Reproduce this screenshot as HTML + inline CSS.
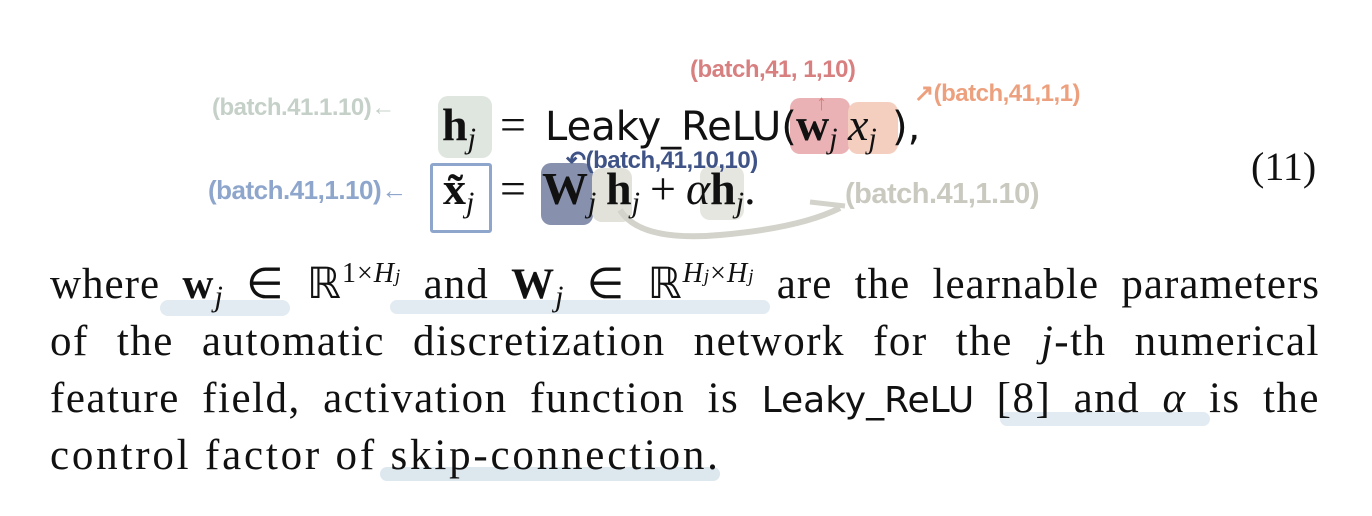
<!DOCTYPE html>
<html><head><meta charset="utf-8"><style>
body{margin:0;width:1372px;height:516px;background:#fff;overflow:hidden;position:relative;font-family:"Liberation Serif",serif;color:#111}
.a{position:absolute;white-space:nowrap}
.hand{font-family:"Liberation Sans",sans-serif;font-weight:bold;font-size:24px;letter-spacing:-0.5px}
.blob{position:absolute;border-radius:10px}
.p{position:absolute;left:50px;width:1270px;font-size:43px;letter-spacing:1.5px;text-align:justify;text-align-last:justify;line-height:57px;height:57px}
.sf{font-family:"DejaVu Sans",sans-serif}
.e{position:absolute;white-space:nowrap;font-size:46px;line-height:46px}
.s{font-size:30px;font-style:italic;position:relative;top:8px}
.sup{font-size:28px;position:relative;top:-16px}
</style></head><body>
<div class="blob" style="left:438px;top:96px;width:54px;height:62px;background:#dfe5df"></div>
<div class="blob" style="left:790px;top:98px;width:60px;height:56px;background:#eab2b4"></div>
<div class="blob" style="left:848px;top:102px;width:50px;height:52px;background:#f4cfc0"></div>
<div class="blob" style="left:541px;top:163px;width:52px;height:62px;background:#8791ad"></div>
<div class="blob" style="left:592px;top:168px;width:40px;height:54px;background:#e2e2da"></div>
<div class="blob" style="left:700px;top:166px;width:44px;height:54px;background:#e6e6e0"></div>
<div class="a" style="left:430px;top:163px;width:56px;height:64px;border:3px solid #8ea6cc;border-radius:3px"></div>
<div class="blob" style="left:160px;top:300px;width:130px;height:16px;background:#dbe6ee;opacity:.8"></div>
<div class="blob" style="left:390px;top:300px;width:380px;height:14px;background:#dbe6ee;opacity:.8"></div>
<div class="blob" style="left:1000px;top:412px;width:210px;height:14px;background:#dbe6ee;opacity:.8"></div>
<div class="blob" style="left:380px;top:467px;width:340px;height:14px;background:#d9e4ec;opacity:.9"></div>
<div class="a hand" style="left:212px;top:94px;color:#c5d0c8">(batch.41.1.10)←</div>
<div class="a hand" style="left:690px;top:56px;color:#d87f80">(batch,41, 1,10)</div>
<div class="a" style="left:816px;top:90px;color:#d87f80;font-size:22px">↑</div>
<div class="a hand" style="left:914px;top:79px;color:#eda07e">↗(batch,41,1,1)</div>
<div class="a hand" style="left:566px;top:146px;color:#3f5386">↶(batch,41,10,10)</div>
<div class="a hand" style="left:208px;top:175px;color:#8ea6cc;font-size:26px">(batch.41,1.10)←</div>
<div class="a hand" style="left:845px;top:178px;color:#c9c9c0;font-size:29px">(batch.41,1.10)</div>
<svg class="a" style="left:600px;top:190px" width="260" height="60"><path d="M20 20 Q40 52 120 45 Q200 38 240 18" stroke="#d3d3cb" stroke-width="6" fill="none"/><path d="M210 12 L245 16" stroke="#d3d3cb" stroke-width="5"/></svg>
<div class="e" style="left:442px;top:102px"><b>h</b><span class="s">j</span></div>
<div class="e" style="left:500px;top:102px">=</div>
<div class="e sf" style="left:545px;top:104px;font-size:40px">Leaky_ReLU(</div>
<div class="e" style="left:796px;top:102px"><b>w</b><span class="s">j</span></div>
<div class="e" style="left:848px;top:102px"><i>x</i><span class="s">j</span></div>
<div class="e sf" style="left:892px;top:104px;font-size:40px">),</div>
<div class="e" style="left:443px;top:166px"><b>x̃</b><span class="s">j</span></div>
<div class="e" style="left:500px;top:166px">=</div>
<div class="e" style="left:542px;top:166px"><b>W</b><span class="s">j</span></div>
<div class="e" style="left:606px;top:166px"><b>h</b><span class="s">j</span></div>
<div class="e" style="left:650px;top:166px">+</div>
<div class="e" style="left:686px;top:166px"><i>α</i><b>h</b><span class="s">j</span>.</div>
<div class="a" style="left:1251px;top:143px;font-size:40px">(11)</div>
<div class="p" style="top:256px;letter-spacing:1px">where <b>w</b><span class="s">j</span> ∈ ℝ<span class="sup">1×<i>H<span style="font-size:19px">j</span></i></span> and <b>W</b><span class="s">j</span> ∈ ℝ<span class="sup"><i>H<span style="font-size:19px">j</span></i>×<i>H<span style="font-size:19px">j</span></i></span> are the learnable parameters</div>
<div class="p" style="top:313px">of the automatic discretization network for the <i>j</i>-th numerical</div>
<div class="p" style="top:370px">feature field, activation function is <span class="sf" style="font-size:36px;letter-spacing:0">Leaky_ReLU</span> [8] and <i>α</i> is the</div>
<div class="a" style="left:50px;top:427px;font-size:43px;letter-spacing:2.8px;line-height:57px">control factor of skip-connection.</div>
</body></html>
